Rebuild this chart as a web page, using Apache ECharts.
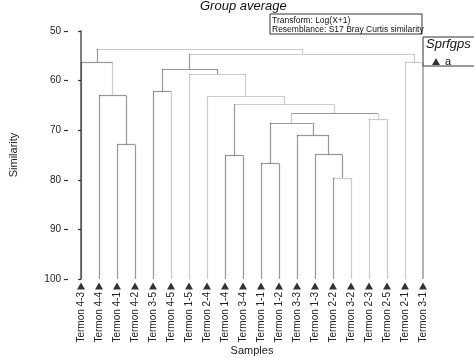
<!DOCTYPE html>
<html><head><meta charset="utf-8">
<script src="https://cdn.jsdelivr.net/npm/echarts@6/dist/echarts.min.js"></script>
<style>html,body{margin:0;padding:0;background:#fff}#c{width:474px;height:358px}</style>
</head><body><div id="c"></div>
<script>
// ---- data ----
const leafLabels = ['Termon 4-3','Termon 4-4','Termon 4-1','Termon 4-2','Termon 3-5','Termon 4-5','Termon 1-5','Termon 2-4','Termon 1-4','Termon 3-4','Termon 1-1','Termon 1-2','Termon 3-3','Termon 1-3','Termon 2-2','Termon 3-2','Termon 2-3','Termon 2-5','Termon 2-1','Termon 3-1'];
const mergeId     = ['L3','L2','L1','C','O','N','M','K','I','J','H','G','F','E','D','B','A','R1','Root'];
const mergeLeft   = ['Termon 4-1','Termon 4-4','Termon 4-3','Termon 3-5','Termon 2-2','Termon 1-3','Termon 3-3','Termon 1-1','K','Termon 2-3','I','Termon 1-4','G','Termon 2-4','Termon 1-5','Termon 2-1','C','A','L1'];
const mergeRight  = ['Termon 4-2','L3','L2','Termon 4-5','Termon 3-2','O','N','Termon 1-2','M','Termon 2-5','J','Termon 3-4','H','F','E','Termon 3-1','D','B','R1'];
const mergeHeight = [72.9,63.0,56.3,62.2,79.6,74.9,71.0,76.7,68.5,67.7,66.6,75.1,64.8,63.2,58.7,56.4,57.7,54.6,53.6];
const yTicks = [50,60,70,80,90,100];
const groupName = 'a';

// ---- style (kept apart from data) ----
const DARK = '#333', LIGHT = '#999';
const lightStems = new Set(['L2','Termon 4-5','Termon 1-5','Termon 2-4','E','F','H','I','J','Termon 2-3','Termon 2-5','Termon 3-2','Termon 2-1','R1','B']);
const lightBars = new Set(['Root','R1','D','E','F','J','B','O']);
const heavyStems = new Set(['Termon 3-1']);

// ---- build dendrogram geometry from the tree ----
const pos = {}, hgt = {};
leafLabels.forEach((n, i) => { pos[n] = i; hgt[n] = 100; });
mergeId.forEach((id, k) => {
  pos[id] = (pos[mergeLeft[k]] + pos[mergeRight[k]]) / 2;
  hgt[id] = mergeHeight[k];
});
const segs = [];
mergeId.forEach((id, k) => {
  const a = mergeLeft[k], b = mergeRight[k], h = mergeHeight[k];
  segs.push({coords: [[pos[a], h], [pos[b], h]], lineStyle: {color: lightBars.has(id) ? LIGHT : DARK, width: 1.2}});
  [a, b].forEach(c => {
    const heavy = heavyStems.has(c);
    segs.push({coords: [[pos[c], h], [pos[c], hgt[c]]],
      lineStyle: {color: heavy ? '#666' : (lightStems.has(c) ? LIGHT : DARK), width: heavy ? 2 : 1.2}});
  });
});

const chart = echarts.init(document.getElementById('c'), null, {renderer: 'canvas'});
const FONT = 'Liberation Sans, Arial, sans-serif';
chart.setOption({
  animation: false,
  backgroundColor: '#fff',
  grid: {left: 72, right: 42, top: 31, bottom: 79, containLabel: false, outerBoundsMode: 'none'},
  xAxis: [
    {type: 'value', min: -0.5, max: 19.5, show: false},
    {type: 'category', data: leafLabels, position: 'bottom', boundaryGap: true,
     axisLine: {show: false}, axisTick: {show: false},
     axisLabel: {rotate: 90, margin: 13, fontSize: 10, color: '#222', fontFamily: FONT, interval: 0},
     name: 'Samples', nameLocation: 'middle', nameGap: 66, nameMoveOverlap: false,
     nameTextStyle: {fontSize: 11, color: '#222', fontFamily: FONT, verticalAlign: 'top'}}
  ],
  yAxis: [
    {type: 'value', position: 'left', min: 50, max: 100, interval: 10, inverse: true, offset: 8,
     splitLine: {show: false},
     axisLine: {show: true, lineStyle: {color: '#555', width: 1.5}},
     axisTick: {show: true, length: 3, lineStyle: {color: '#333', width: 1.2}},
     axisLabel: {fontSize: 10, color: '#222', margin: 3, fontFamily: FONT},
     name: 'Similarity', nameLocation: 'middle', nameGap: 45,
     nameTextStyle: {fontSize: 11, color: '#222', fontFamily: FONT}},
    {type: 'value', position: 'left', min: 50, max: 100, interval: 10, inverse: true, offset: 8,
     splitLine: {show: false}, axisLine: {show: false},
     axisTick: {show: true, inside: true, length: 4, lineStyle: {color: '#333', width: 1.2}},
     axisLabel: {show: false}}
  ],
  legend: {show: true, left: 427, top: 51, itemWidth: 8, itemHeight: 7, itemGap: 4,
    data: [{name: groupName, icon: 'triangle'}],
    textStyle: {fontSize: 11, color: '#111', fontFamily: FONT}},
  series: [
    {type: 'lines', coordinateSystem: 'cartesian2d', xAxisIndex: 0, yAxisIndex: 0,
     polyline: false, silent: true, data: segs},
    {type: 'scatter', name: groupName, xAxisIndex: 1, yAxisIndex: 0, clip: false,
     symbol: 'triangle', symbolSize: [8, 7], symbolOffset: [0, 7],
     itemStyle: {color: '#000'},
     data: leafLabels.map(l => [l, 100])}
  ],
  graphic: [
    {type: 'text', left: 200, top: 0, style: {text: 'Group average', font: 'italic 13px ' + FONT, fill: '#111'}},
    {type: 'rect', shape: {x: 270, y: 14, width: 152, height: 20}, style: {fill: '#fff', stroke: '#333', lineWidth: 1}},
    {type: 'text', x: 272, y: 16, style: {text: 'Transform: Log(X+1)', font: '8.5px ' + FONT, fill: '#111'}},
    {type: 'text', x: 272, y: 25, style: {text: 'Resemblance: S17 Bray Curtis similarity', font: '8.5px ' + FONT, fill: '#111'}},
    {type: 'rect', z: -1, shape: {x: 423, y: 37, width: 60, height: 29}, style: {fill: '#fff', stroke: '#333', lineWidth: 1}},
    {type: 'text', x: 426, y: 38, style: {text: 'Sprfgps', font: 'italic 13px ' + FONT, fill: '#111'}}
  ]
});
</script></body></html>
